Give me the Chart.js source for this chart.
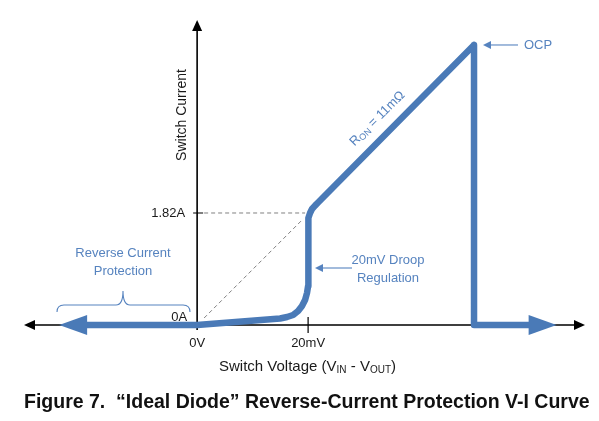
<!DOCTYPE html>
<html>
<head>
<meta charset="utf-8">
<script src="https://cdn.jsdelivr.net/npm/chart.js@4"></script>
<style>
  html, body { margin: 0; padding: 0; background: #fff; }
  #wrap { width: 599px; height: 421px; }
</style>
</head>
<body>
<div id="wrap"><canvas id="chart" width="599" height="421"></canvas></div>
<script>
// switch voltage (mV) / switch current (A)
const curveX = [-20, 0, 14.95, 16.2, 17.3, 18.2, 18.9, 19.45, 19.8, 20, 20, 20.1, 20.35, 20.7, 21.25, 21.8, 49.9, 49.9, 60.1];
const curveY = [0, 0, 0.106, 0.13, 0.162, 0.227, 0.309, 0.406, 0.52, 0.634, 1.64, 1.74, 1.82, 1.885, 1.94, 1.99, 4.55, 0, 0];
const tickX = [0, 20];
const tickXLabels = ['0V', '20mV'];
const tickY = [0, 1.82];
const tickYLabels = ['0A', '1.82A'];
const ocp = [49.9, 4.55];

const BLUE = '#4a7ab7';
const TXT_BLUE = '#5683bf';
const FONT = '"Liberation Sans", Arial, sans-serif';

function tri(ctx, tx, ty, dir, len, half) {
  ctx.beginPath();
  ctx.moveTo(tx, ty);
  ctx.lineTo(tx - dir * len, ty - half);
  ctx.lineTo(tx - dir * len, ty + half);
  ctx.closePath();
  ctx.fill();
}

const decor = {
  id: 'decor',
  beforeDatasetsDraw(chart) {
    const { ctx } = chart;
    const xs = chart.scales.x, ys = chart.scales.y;
    const x0 = xs.getPixelForValue(0), y0 = ys.getPixelForValue(0);
    ctx.save();
    // axes
    ctx.strokeStyle = '#000';
    ctx.fillStyle = '#000';
    ctx.lineWidth = 1.6;
    ctx.beginPath();
    ctx.moveTo(xs.left + 6, y0); ctx.lineTo(xs.right - 6, y0);
    ctx.moveTo(x0, ys.top + 6); ctx.lineTo(x0, y0 + 5);
    ctx.stroke();
    tri(ctx, xs.left, y0, -1, 11, 5);
    tri(ctx, xs.right, y0, 1, 11, 5);
    ctx.beginPath();
    ctx.moveTo(x0, ys.top); ctx.lineTo(x0 - 5, ys.top + 11); ctx.lineTo(x0 + 5, ys.top + 11);
    ctx.closePath(); ctx.fill();

    // ticks
    ctx.lineWidth = 1.2;
    const x20 = xs.getPixelForValue(tickX[1]);
    const y182 = ys.getPixelForValue(tickY[1]);
    ctx.beginPath();
    ctx.moveTo(x20, y0 - 8); ctx.lineTo(x20, y0 + 8);
    ctx.moveTo(x0 - 4, y182); ctx.lineTo(x0 + 6, y182);
    ctx.stroke();

    // dashed guides
    ctx.strokeStyle = '#808080';
    ctx.lineWidth = 1;
    ctx.setLineDash([4, 3]);
    ctx.beginPath();
    ctx.moveTo(x0 + 7, y182); ctx.lineTo(x20 - 3, y182);
    ctx.moveTo(x0 + 7, y0 - 7); ctx.lineTo(x20 - 6, y182 + 7);
    ctx.stroke();
    ctx.setLineDash([]);

    // tick labels
    ctx.fillStyle = '#1a1a1a';
    ctx.font = '13px ' + FONT;
    ctx.textBaseline = 'middle';
    ctx.textAlign = 'center';
    tickX.forEach((v, i) => ctx.fillText(tickXLabels[i], xs.getPixelForValue(v), y0 + 18));
    ctx.textAlign = 'right';
    ctx.fillText(tickYLabels[0], x0 - 10, y0 - 8);
    ctx.fillText(tickYLabels[1], x0 - 12, y182);

    // axis titles
    ctx.font = '14px ' + FONT;
    ctx.save();
    ctx.translate(x0 - 15, 115);
    ctx.rotate(-Math.PI / 2);
    ctx.textAlign = 'center';
    ctx.fillText('Switch Current', 0, 0);
    ctx.restore();

    ctx.textAlign = 'left';
    let tx = 219, ty = 367;
    const parts = [['Switch Voltage (V', 15, 0], ['IN', 10, 3], [' - V', 15, 0], ['OUT', 10, 3], [')', 15, 0]];
    parts.forEach(p => {
      ctx.font = p[1] + 'px ' + FONT;
      ctx.fillText(p[0], tx, ty + p[2]);
      tx += ctx.measureText(p[0]).width;
    });

    // blue annotations
    ctx.fillStyle = TXT_BLUE;
    ctx.strokeStyle = TXT_BLUE;
    ctx.font = '13px ' + FONT;
    ctx.textAlign = 'center';
    ctx.fillText('Reverse Current', 123, 253);
    ctx.fillText('Protection', 123, 271);
    // brace
    ctx.lineWidth = 1.1;
    ctx.beginPath();
    ctx.moveTo(57, 312);
    ctx.quadraticCurveTo(57, 305, 64, 305);
    ctx.lineTo(116, 305);
    ctx.quadraticCurveTo(123, 305, 123, 291);
    ctx.quadraticCurveTo(123, 305, 130, 305);
    ctx.lineTo(183, 305);
    ctx.quadraticCurveTo(190, 305, 190, 312);
    ctx.stroke();

    ctx.fillText('20mV Droop', 388, 260);
    ctx.fillText('Regulation', 388, 278);
    ctx.beginPath(); ctx.moveTo(320, 268); ctx.lineTo(352, 268); ctx.stroke();
    tri(ctx, 315, 268, -1, 8, 4);

    const ox = xs.getPixelForValue(ocp[0]), oy = ys.getPixelForValue(ocp[1]);
    ctx.textAlign = 'left';
    ctx.fillText('OCP', 524, oy);
    ctx.beginPath(); ctx.moveTo(ox + 14, oy); ctx.lineTo(518, oy); ctx.stroke();
    tri(ctx, ox + 9, oy, -1, 8, 4);

    // R_ON label along the slope
    ctx.save();
    ctx.translate(352, 144);
    ctx.rotate(-Math.PI / 4);
    ctx.textAlign = 'left';
    ctx.font = '13px ' + FONT;
    ctx.fillText('R', 0, 0);
    let w = ctx.measureText('R').width;
    ctx.font = '9px ' + FONT;
    ctx.fillText('ON', w, 3);
    w += ctx.measureText('ON').width;
    ctx.font = '13px ' + FONT;
    ctx.fillText(' = 11m\u03A9', w, 0);
    ctx.restore();

    // caption
    ctx.fillStyle = '#111';
    ctx.font = 'bold 19.5px ' + FONT;
    ctx.textAlign = 'left';
    ctx.fillText('Figure 7.  \u201CIdeal Diode\u201D Reverse-Current Protection V-I Curve', 24, 403);
    ctx.restore();
  },
  afterDatasetsDraw(chart) {
    const { ctx } = chart;
    const xs = chart.scales.x, ys = chart.scales.y;
    const y0 = ys.getPixelForValue(0);
    ctx.save();
    ctx.fillStyle = BLUE;
    tri(ctx, xs.getPixelForValue(curveX[0]) - 27, y0, -1, 28, 10);
    tri(ctx, xs.getPixelForValue(curveX[curveX.length - 1]) + 26, y0, 1, 28, 10);
    ctx.restore();
  }
};

new Chart(document.getElementById('chart'), {
  type: 'line',
  data: {
    datasets: [{
      data: curveX.map((x, i) => ({ x: x, y: curveY[i] })),
      borderColor: BLUE,
      borderWidth: 6.5,
      borderJoinStyle: 'round',
      borderCapStyle: 'butt',
      pointRadius: 0,
      tension: 0,
      fill: false,
      clip: false
    }]
  },
  options: {
    responsive: false,
    animation: false,
    layout: { padding: { left: 24, right: 14, top: 20, bottom: 96 } },
    plugins: { legend: { display: false }, tooltip: { enabled: false } },
    scales: {
      x: { type: 'linear', min: -31.2, max: 69.9, display: false },
      y: { type: 'linear', min: 0, max: 4.956, display: false }
    }
  },
  plugins: [decor]
});
</script>
</body>
</html>
